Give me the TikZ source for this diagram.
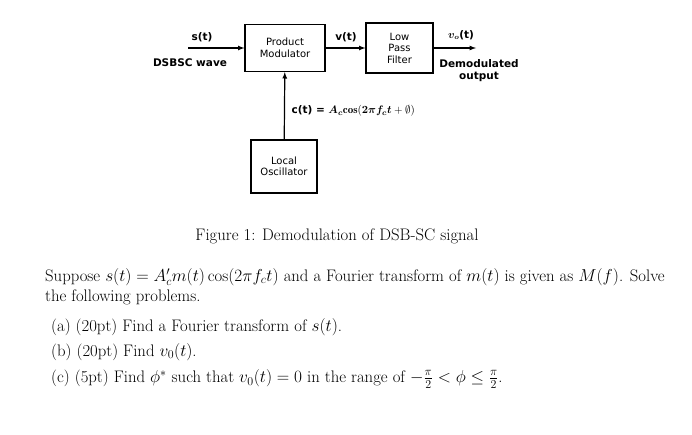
\documentclass[tikz,border=0pt]{standalone}
\usepackage{amsmath}
\usepackage{amssymb}
\usepackage{fontspec}
\newfontfamily\djv{DejaVu Sans}
\usetikzlibrary{positioning}
\tikzset{
  blk/.style={draw,line width=1.2pt,align=center,font=\djv\fontsize{10}{11.5}\selectfont},
  lbl/.style={font=\djv\bfseries\fontsize{10.5}{12}\selectfont,align=center},
  txt/.style={anchor=west,inner sep=0pt,font=\fontsize{16.7}{19}\selectfont},
  sig/.style={->,>=latex,line width=1.2pt}
}
\begin{document}
\begin{tikzpicture}[x=1pt,y=-1pt]
        \useasboundingbox (0,0) rectangle (692,434);
        % blocks
        \node[blk,minimum width=80pt,minimum height=47pt] (pm) at (285,48) {Product\\Modulator};
        \node[blk,minimum width=67pt,minimum height=50pt] (lpf) at (399.5,48) {Low\\Pass\\Filter};
        \node[blk,minimum width=66pt,minimum height=53pt] (lo) at (284,166.5) {Local\\Oscillator};
        \coordinate (in) at (188,48);
        \coordinate (out) at (476,48);
        % connectors
        \draw[sig] (in) -- (pm);
        \draw[sig] (pm) -- (lpf);
        \draw[sig] (lpf) -- (out);
        \draw[sig] (lo) -- (pm);
        % labels
        \node[lbl] (st) at (202,37) {s(t)};
        \node[lbl] (dsb) at (190,63) {DSBSC wave};
        \node[lbl] (vt) at (346,37) {v(t)};
        \node[lbl] (vo) at (461,35) {$\boldsymbol{v_o}$(t)};
        \node[lbl] (dem) at (479,71) {Demodulated\\output};
        \node[lbl,anchor=west] (ct) at (288,111) {c(t) = {\fontsize{11}{12}\selectfont$\boldsymbol{A_c}\mathbf{cos(}\boldsymbol{2\pi f_c t}+\emptyset)$}};
        % text
        \node[txt,anchor=center] (cap) at (337,236) {Figure 1: Demodulation of DSB-SC signal};
        \node[txt] (p1) at (45,277) {Suppose $s(t)=A_c'm(t)\cos(2\pi f_ct)$ and a Fourier transform of $m(t)$ is given as $M(f)$. Solve};
        \node[txt] (p2) at (45,297) {the following problems.};
        \node[txt] (qa) at (51,327) {(a) (20pt) Find a Fourier transform of $s(t)$.};
        \node[txt] (qb) at (51,352) {(b) (20pt) Find $v_0(t)$.};
        \node[txt] (qc) at (51,379) {(c) (5pt) Find $\phi^*$ such that $v_0(t)=0$ in the range of $-\frac{\pi}{2}<\phi\leq\frac{\pi}{2}$.};
\end{tikzpicture}
\end{document}
